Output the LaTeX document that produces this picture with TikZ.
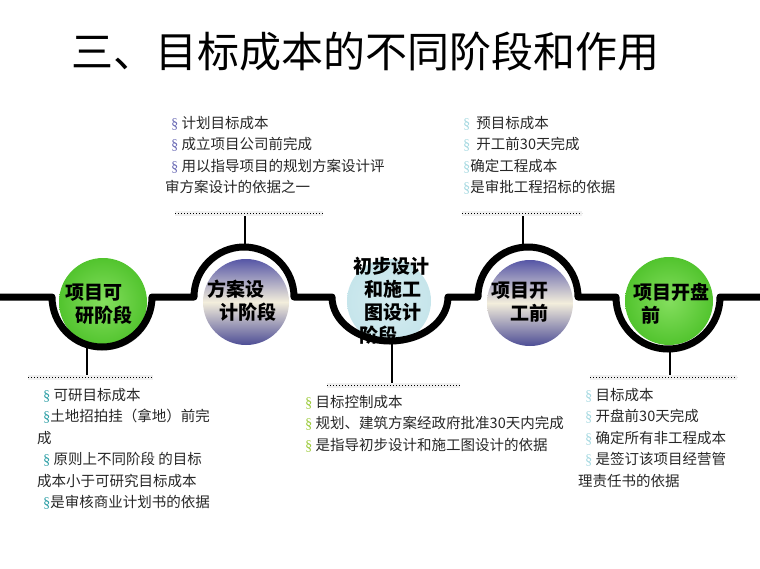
\documentclass[tikz,border=0pt]{standalone}
\usepackage{fontspec}
\setmainfont{Liberation Serif}
\newfontfamily\cjk{Noto Sans CJK SC}
\definecolor{ink}{HTML}{262626}
\definecolor{leafgreen}{HTML}{52C42E}
\definecolor{leaflight}{HTML}{84DE5E}
\definecolor{dusk}{HTML}{5656A6}
\definecolor{cream}{HTML}{F3EEDC}
\definecolor{ice}{HTML}{C6E5EB}
\definecolor{secteal}{HTML}{2E9FA6}
\definecolor{secblue}{HTML}{6B6BB5}
\definecolor{seclime}{HTML}{9DCB3D}
\definecolor{secice}{HTML}{A6D9E1}
\newcommand{\sect}[1]{{\rmfamily\color{#1}\S}}
\tikzset{
  title/.style={font=\cjk\fontsize{42}{48}\selectfont,inner sep=0pt},
  ballgreen/.style={circle,minimum size=88pt,inner sep=0pt,shading=radial,inner color=leaflight,outer color=leafgreen},
  balldusk/.style={circle,minimum size=86pt,inner sep=0pt,top color=dusk,bottom color=dusk!90!black,middle color=cream},
  ballice/.style={circle,minimum size=84pt,inner sep=0pt,shading=radial,inner color=ice!75!white,outer color=ice},
  track/.style={line width=7pt,black,line join=round,preaction={draw=black!22,transform canvas={shift={(2pt,-3pt)}}}},
  stagelabel/.style={font=\cjk\bfseries\fontsize{19}{23}\selectfont,text=black,inner sep=0pt},
  stem/.style={line width=2pt,black},
  dotline/.style={dotted,line width=1pt,black,preaction={draw=black!6,solid,line width=5pt}},
  note/.style={font=\cjk\fontsize{14.5}{21.5}\selectfont,text=ink,align=left,anchor=north west,inner sep=0pt}
}
\begin{document}
\begin{tikzpicture}[x=1pt,y=-1pt]
  \useasboundingbox (0,0) rectangle (760,568);
  \node[title] (title) at (365,52) {三、目标成本的不同阶段和作用};

  % stage balls
  \node[ballgreen] (c1) at (103,302) {};
  \node[balldusk] (c2) at (246,302) {};
  \node[ballice] (c3) at (389,301) {};
  \node[balldusk] (c4) at (530,303) {};
  \node[ballgreen] (c5) at (669,301) {};

  % the track
  \draw[track] (0,297) -- (52,297) arc[start angle=180,end angle=360,radius=50pt]
    -- (194,297) arc[start angle=180,end angle=0,radius=50pt]
    -- (332,297) arc[start angle=180,end angle=360,x radius=58pt,y radius=44pt]
    -- (478,297) arc[start angle=180,end angle=0,radius=50pt]
    -- (616,297) arc[start angle=180,end angle=360,radius=52pt]
    -- (760,297);

  \node[stagelabel,align=left] (l1) at (99,304) {项目可\\\hspace{0.55em}研阶段};
  \node[stagelabel,align=left] (l2) at (242,301) {方案设\\\hspace{0.6em}计阶段};
  \node[stagelabel,align=left] (l3) at (391,301) {初步设计\\\hspace{0.6em}和施工\\\hspace{0.6em}图设计\\\hspace{0.35em}阶段};
  \node[stagelabel,align=right] (l4) at (520,302) {项目开\\工前};
  \node[stagelabel,align=left] (l5) at (671,304) {项目开盘\\\hspace{0.45em}前};

  % stems and dotted rules
  \coordinate (t1) at (87,345);  \coordinate (b1) at (87,377);
  \coordinate (t2) at (245,247); \coordinate (b2) at (245,213);
  \coordinate (t3) at (392,341); \coordinate (b3) at (392,385);
  \coordinate (t4) at (523,247); \coordinate (b4) at (523,213);
  \coordinate (t5) at (670,349); \coordinate (b5) at (670,377);
  \draw[stem] (t1) -- (b1);
  \draw[stem] (t2) -- (b2);
  \draw[stem] (t3) -- (b3);
  \draw[stem] (t4) -- (b4);
  \draw[stem] (t5) -- (b5);
  \coordinate (d1a) at (28,377);  \coordinate (d1b) at (153,377);
  \coordinate (d2a) at (175,213); \coordinate (d2b) at (323,213);
  \coordinate (d3a) at (327,385); \coordinate (d3b) at (460,385);
  \coordinate (d4a) at (462,213); \coordinate (d4b) at (582,213);
  \coordinate (d5a) at (590,377); \coordinate (d5b) at (737,377);
  \draw[dotline] (d1a) -- (d1b);
  \draw[dotline] (d2a) -- (d2b);
  \draw[dotline] (d3a) -- (d3b);
  \draw[dotline] (d4a) -- (d4b);
  \draw[dotline] (d5a) -- (d5b);

  % notes
  \node[note] (n1) at (37,388) {\hspace{6pt}\sect{secteal} 可研目标成本\\
    \hspace{6pt}\sect{secteal}土地招拍挂（拿地）前完\\
    成\\
    \hspace{6pt}\sect{secteal} 原则上不同阶段 的目标\\
    成本小于可研究目标成本\\
    \hspace{6pt}\sect{secteal}是审核商业计划书的依据};
  \node[note] (n2) at (165,116) {\hspace{6pt}\sect{secblue} 计划目标成本\\
    \hspace{6pt}\sect{secblue} 成立项目公司前完成\\
    \hspace{6pt}\sect{secblue} 用以指导项目的规划方案设计评\\
    审方案设计的依据之一};
  \node[note] (n3) at (305,395) {\sect{seclime} 目标控制成本\\
    \sect{seclime} 规划、建筑方案经政府批准30天内完成\\
    \sect{seclime} 是指导初步设计和施工图设计的依据};
  \node[note] (n4) at (463,116) {\sect{secice}\hspace{6pt}预目标成本\\
    \sect{secice}\hspace{6pt}开工前30天完成\\
    \sect{secice}确定工程成本\\
    \sect{secice}是审批工程招标的依据};
  \node[note] (n5) at (578,388) {\hspace{7pt}\sect{secice} 目标成本\\
    \hspace{7pt}\sect{secice} 开盘前30天完成\\
    \hspace{7pt}\sect{secice} 确定所有非工程成本\\
    \hspace{7pt}\sect{secice} 是签订该项目经营管\\
    理责任书的依据};
\end{tikzpicture}
\end{document}
